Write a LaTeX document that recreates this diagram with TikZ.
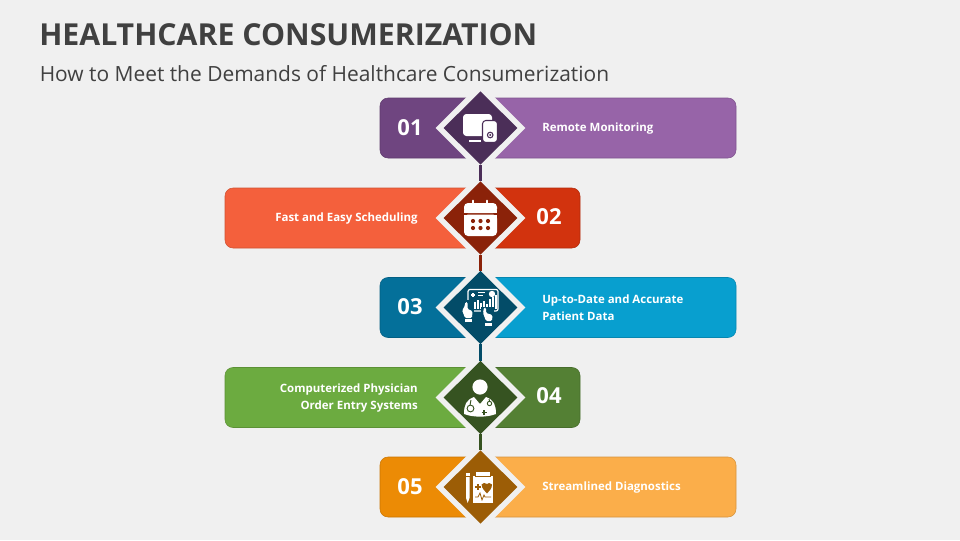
\documentclass[tikz,border=0pt]{standalone}
\usepackage{fontspec}
\setmainfont{Open Sans}
\usetikzlibrary{shapes.geometric}

\definecolor{pageback}{HTML}{F0F0F0}
\definecolor{titletext}{HTML}{404040}
\definecolor{purpledark}{HTML}{6F4580}
\definecolor{purplelight}{HTML}{9764A8}
\definecolor{purpletip}{HTML}{4B2E58}
\definecolor{reddark}{HTML}{D2330E}
\definecolor{redlight}{HTML}{F4603C}
\definecolor{redtip}{HTML}{8B2209}
\definecolor{bluedark}{HTML}{04709A}
\definecolor{bluelight}{HTML}{089FCF}
\definecolor{bluetip}{HTML}{034C68}
\definecolor{greendark}{HTML}{548034}
\definecolor{greenlight}{HTML}{6CAB40}
\definecolor{greentip}{HTML}{365321}
\definecolor{orangedark}{HTML}{EC8B05}
\definecolor{orangelight}{HTML}{FBAE4A}
\definecolor{orangetip}{HTML}{9C5D06}

\tikzset{
  barshort/.style={draw=#1!85!black,fill=#1,rectangle,rounded corners=6pt,
    minimum width=75pt,minimum height=45pt,inner sep=0pt},
  barlong/.style={draw=#1!85!black,fill=#1,rectangle,rounded corners=6pt,
    minimum width=192pt,minimum height=45pt,inner sep=0pt},
  halo/.style={fill=pageback,shape=diamond,minimum width=67.5pt,minimum height=67.5pt,inner sep=0pt},
  tip/.style={fill=#1,shape=diamond,minimum width=55.5pt,minimum height=55pt,inner sep=0pt},
  numtext/.style={text=white,font=\fontsize{16.5}{18}\selectfont\bfseries},
  bartext/.style={text=white,font=\fontsize{8.6}{13}\selectfont\bfseries,inner sep=0pt},
  joint/.style={line width=2.2pt,draw=#1}
}

\begin{document}
\begin{tikzpicture}[x=0.75pt,y=-0.75pt]
   \useasboundingbox (0,0) rectangle (960,540);
   \fill[pageback] (0,0) rectangle (960,540);

   \node[anchor=west,inner sep=0pt,text=titletext,font=\fontsize{22.7}{26}\selectfont\bfseries] (title) at (39,35) {HEALTHCARE CONSUMERIZATION};
   \node[anchor=west,inner sep=0pt,text=titletext,font=\fontsize{15.7}{18}\selectfont] (subtitle) at (39.5,73.5) {How to Meet the Demands of Healthcare Consumerization};

   % row 1
   \node[barshort=purpledark] (B1a) at (430,128) {};
   \node[barlong=purplelight] (B1b) at (608,128) {};
   \node[halo] (H1) at (480.5,128) {};
   \node[tip=purpletip] (D1) at (480.5,128) {};
   \node[numtext] (N1) at (410,128) {01};
   \node[bartext,anchor=west] (T1) at (542,129) {Remote Monitoring};

   % row 2
   \node[barlong=redlight] (B2a) at (353,218) {};
   \node[barshort=reddark] (B2b) at (530,218) {};
   \node[halo] (H2) at (480.5,218) {};
   \node[tip=redtip] (D2) at (480.5,218) {};
   \node[numtext] (N2) at (549,217) {02};
   \node[bartext,anchor=east] (T2) at (418,219) {Fast and Easy Scheduling};

   % row 3
   \node[barshort=bluedark] (B3a) at (430,307.5) {};
   \node[barlong=bluelight] (B3b) at (608,307.5) {};
   \node[halo] (H3) at (480.5,307.5) {};
   \node[tip=bluetip] (D3) at (480.5,307.5) {};
   \node[numtext] (N3) at (410,307) {03};
   \node[bartext,anchor=west,align=left] (T3) at (542,307.5) {Up-to-Date and Accurate\\Patient Data};

   % row 4
   \node[barlong=greenlight] (B4a) at (353,397.5) {};
   \node[barshort=greendark] (B4b) at (530,397.5) {};
   \node[halo] (H4) at (480.5,397.5) {};
   \node[tip=greentip] (D4) at (480.5,397.5) {};
   \node[numtext] (N4) at (549,396) {04};
   \node[bartext,anchor=east,align=right] (T4) at (418,398) {Computerized Physician\\Order Entry Systems};

   % row 5
   \node[barshort=orangedark] (B5a) at (430,487) {};
   \node[barlong=orangelight] (B5b) at (608,487) {};
   \node[halo] (H5) at (480.5,487) {};
   \node[tip=orangetip] (D5) at (480.5,487) {};
   \node[numtext] (N5) at (410,487) {05};
   \node[bartext,anchor=west] (T5) at (542,487.5) {Streamlined Diagnostics};

   \draw[joint=purpletip] (D1.south) -- (D2.north);
   \draw[joint=redtip] (D2.south) -- (D3.north);
   \draw[joint=bluetip] (D3.south) -- (D4.north);
   \draw[joint=greentip] (D4.south) -- (D5.north);

   % icon 1
   \fill[white,rounded corners=2.5pt] (463,114) rectangle (492,136);
   \fill[white] (469,140) rectangle (481,141.5);
   \fill[white,draw=purpletip,line width=0.8pt,rounded corners=2.5pt] (482.5,120.5) rectangle (497.5,142.5);
   \draw[purpletip,line width=0.8pt] (490.2,135) circle[radius=2.8];
   \fill[purpletip] (490.2,135) circle[radius=1.1];

   % icon 2
   \fill[white,rounded corners=3pt] (464,203) -- (497,203) -- (497,213) -- (464,213) -- cycle;
   \fill[white,rounded corners=3pt] (464,214.5) -- (497,214.5) -- (497,236) -- (464,236) -- cycle;
   \fill[white] (464,210) rectangle (497,213);
   \fill[white] (464,214.5) rectangle (497,218);
   \draw[white,line width=1.2pt,line cap=round] (473,200.5) -- (473,207);
   \draw[white,line width=1.2pt,line cap=round] (487,200.5) -- (487,207);
   \foreach \dotx in {473,480.5,488} {
     \foreach \doty in {221,228} {
       \fill[redtip] (\dotx,\doty) circle[radius=2.1];
     }
   }

   % icon 3
   \draw[white,line width=0.9pt,rounded corners=1.5pt] (468,289.5) rectangle (498,311);
   \foreach \barx/\bartop in {471/304,474/302,477/300,480/303,483/301,486/304,489/299,492/297,495/295} {
     \fill[white] (\barx,309) rectangle ({\barx+1.5},\bartop);
   }
   \draw[white,line width=0.8pt] (478,292.5) -- (485,292.5) (478,295.5) -- (483,295.5);
   \draw[white,line width=0.8pt] (471,295) -- (475,295) (473,293) -- (473,297);
   \fill[white] (492,294) circle[radius=3.2];
   \fill[bluetip] (460,300) rectangle (474,322);
   \fill[white,rounded corners=1pt] (465.5,302) -- (467.5,302) -- (467.5,309) -- (472.5,311) -- (472,318) -- (465,318) -- (462,310) -- (464,308) -- cycle;
   \fill[white] (464.5,319) rectangle (472,321.5);
   \fill[bluetip] (481,307) rectangle (494,328);
   \fill[white,rounded corners=1pt] (484,307.5) -- (486,307.5) -- (486,313) -- (492.5,315) -- (492,321) -- (486,321) -- (483,313) -- cycle;
   \fill[white] (484.5,322.5) rectangle (492,326);

   % icon 4
   \fill[white] (480,387) circle[radius=7.6];
   \fill[white] (464,414) .. controls (464,405) and (466,400) .. (474,397) -- (480,404) -- (486,397) .. controls (494,400) and (496,405) .. (496,414) .. controls (487,417.5) and (473,417.5) .. (464,414) -- cycle;
   \draw[greentip,line width=0.7pt] (471,400) -- (470,405) (470.5,408.5) circle[radius=3.4];
   \draw[greentip,line width=0.7pt] (489,399) -- (489.5,401) (489.5,403.5) circle[radius=2.2];
   \draw[greentip,line width=0.9pt] (484,410) -- (484,415) (481.5,412.5) -- (486.5,412.5);

   % icon 5
   \fill[white] (466,477) rectangle (469.5,498) -- (467.7,503) -- (466,498);
   \fill[white] (466,473) rectangle (469.5,476);
   \fill[white] (473,476) rectangle (493,503);
   \fill[white,draw=orangetip,line width=0.6pt] (475.5,471.5) rectangle (490,476);
   \fill[orangetip] (487,484) .. controls (485,482.5) and (483,482.5) .. (481.5,484.5) .. controls (482,489) and (485,491) .. (487,493.5) .. controls (489,491) and (492,489) .. (492,484.5) .. controls (490,482.5) and (488,482.5) .. (487,484) -- cycle;
   \draw[orangetip,line width=0.9pt] (478,484) -- (478,490) (475,487) -- (480.5,487);
   \draw[orangetip,line width=0.6pt] (475,497) -- (478,497) -- (480,493) -- (482,500) -- (484,495) -- (485,497) -- (491,497);
\end{tikzpicture}
\end{document}
